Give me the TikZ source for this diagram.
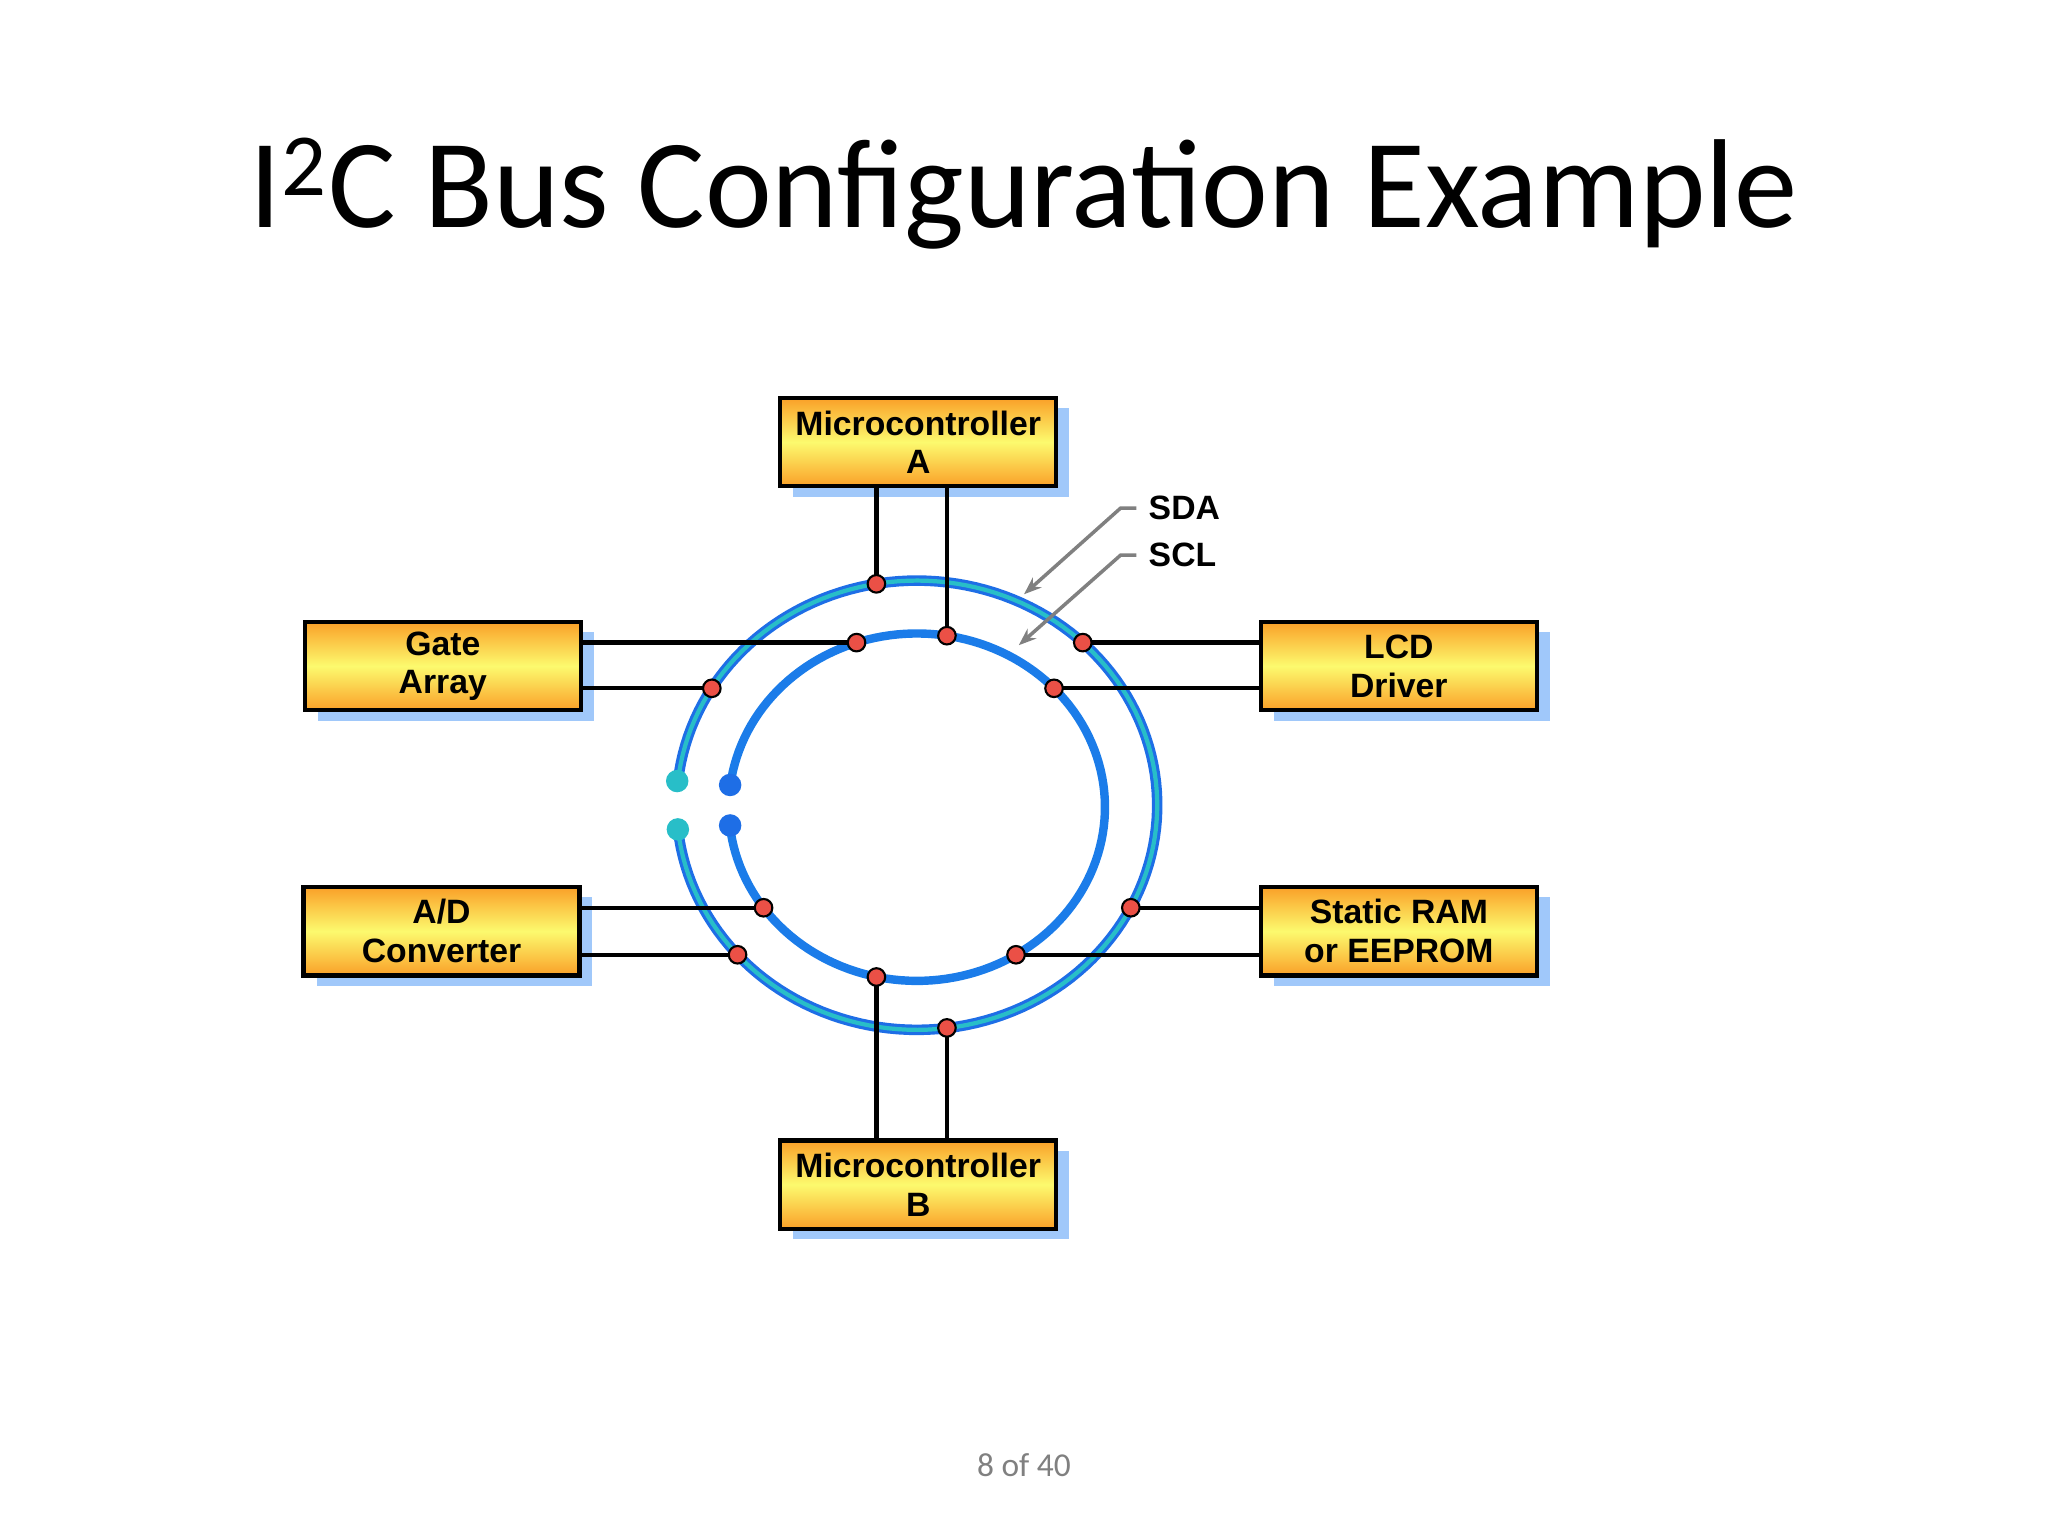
\documentclass[tikz,border=0pt]{standalone}
\usepackage{fontspec}
\setmainfont{Carlito}
\newfontfamily\arial{Liberation Sans}
\usetikzlibrary{arrows.meta}
\definecolor{orng}{RGB}{250,160,40}
\definecolor{yell}{RGB}{252,250,110}
\definecolor{shad}{RGB}{160,200,250}
\definecolor{ringb}{RGB}{30,110,230}
\definecolor{ringt}{RGB}{40,190,200}
\definecolor{dotr}{RGB}{235,80,70}
\tikzset{
 dev/.style={draw=black,line width=1.2pt,minimum width=212\unitpx,minimum height=68\unitpx,align=center,font=\arial\bfseries\fontsize{9.6pt}{11pt}\selectfont,inner sep=0pt,
  top color=orng,bottom color=orng,middle color=yell,
  path picture={},
  preaction={fill=shad,transform canvas={xshift=10\unitpx,yshift=-8\unitpx}}},
 wire/.style={line width=1.2pt,black},
 jd/.style={circle,fill=dotr,draw=black,line width=0.6pt,inner sep=0pt,minimum size=5pt},
 lead/.style={gray,line width=1pt,-{Stealth[length=5pt]}},
}
\newcommand\unitpx{pt*0.3703}
\begin{document}
\begin{tikzpicture}[x=0.013061cm,y=-0.013061cm]
\useasboundingbox (0,0) rectangle (1568,1176);
\node[font=\fontsize{36pt}{40pt}\selectfont] (title) at (784,148) {I\textsuperscript{2}C Bus Configuration Example};
\node[text=gray,font=\fontsize{9.5pt}{11pt}\selectfont] (foot) at (784,1122) {8 of 40};
% rings
\draw[ringb,line width=3pt] plot[domain=186.2:533.8,samples=150] ({702+184*cos(\x)},{616.5+172*sin(\x)});
\draw[ringt,line width=1.2pt] plot[domain=186.2:533.8,samples=150] ({702+184*cos(\x)},{616.5+172*sin(\x)});
\draw[ringb!90!cyan,line width=2.4pt] plot[domain=187.3:534,samples=150] ({702+144*cos(\x)},{618+133*sin(\x)});
\fill[ringt] (518.5,598) circle (3.2pt); \fill[ringt] (519,635) circle (3.2pt);
\fill[ringb] (559,601) circle (3.2pt); \fill[ringb] (559,632) circle (3.2pt);
% boxes
\node[dev] (ma) at (703,338.5) {Microcontroller\\A};
\node[dev] (ga) at (339,510) {Gate\\Array};
\node[dev] (lcd) at (1071,510) {LCD\\Driver};
\node[dev] (ad) at (338,713) {A/D\\Converter};
\node[dev] (ram) at (1071,713) {Static RAM\\or EEPROM};
\node[dev] (mb) at (703,907) {Microcontroller\\B};
% junctions
\coordinate (j1) at (671,447);
\coordinate (j2) at (725,486.7);
\coordinate (j3) at (655.8,492);
\coordinate (j4) at (545,527);
\coordinate (j5) at (829,492);
\coordinate (j6) at (807,527);
\coordinate (j7) at (584.6,695);
\coordinate (j8) at (564.7,731);
\coordinate (j9) at (865.8,695);
\coordinate (j10) at (777.9,731);
\coordinate (j11) at (671,748);
\coordinate (j12) at (725,787);
\draw[wire] (ma.south -| j1) -- (j1);
\draw[wire] (ma.south -| j2) -- (j2);
\draw[wire] (ga.east |- j3) -- (j3);
\draw[wire] (ga.east |- j4) -- (j4);
\draw[wire] (lcd.west |- j5) -- (j5);
\draw[wire] (lcd.west |- j6) -- (j6);
\draw[wire] (ad.east |- j7) -- (j7);
\draw[wire] (ad.east |- j8) -- (j8);
\draw[wire] (ram.west |- j9) -- (j9);
\draw[wire] (ram.west |- j10) -- (j10);
\draw[wire] (mb.north -| j11) -- (j11);
\draw[wire] (mb.north -| j12) -- (j12);
\foreach \j in {j1,j2,j3,j4,j5,j6,j7,j8,j9,j10,j11,j12} \node[jd] at (\j) {};
% labels
\node[anchor=west,font=\arial\bfseries\fontsize{9.6pt}{11pt}\selectfont] (sda) at (870,389) {SDA};
\node[anchor=west,font=\arial\bfseries\fontsize{9.6pt}{11pt}\selectfont] (scl) at (870,425) {SCL};
\coordinate (sdat) at (784,455);
\coordinate (sclt) at (780,494);
\draw[lead] (sda.west) -- ++(-12,0) -- (sdat);
\draw[lead] (scl.west) -- ++(-12,0) -- (sclt);
\end{tikzpicture}
\end{document}
